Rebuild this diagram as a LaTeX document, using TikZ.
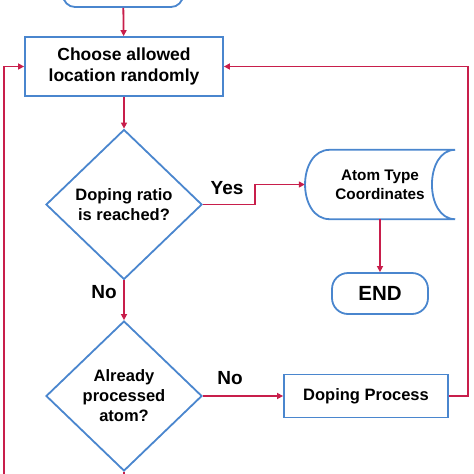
\documentclass[tikz,border=0pt]{standalone}
\usepackage{fontspec}
\setmainfont{Liberation Sans}
\usetikzlibrary{shapes.geometric, arrows.meta, positioning, calc}
\definecolor{flowblue}{RGB}{74, 134, 206}
\definecolor{linkred}{RGB}{200, 30, 75}
\tikzset{
  process/.style={draw=flowblue, line width=1.8pt, fill=white, align=center, inner sep=2pt, font=\bfseries\fontsize{17.5}{21}\selectfont},
  terminal/.style={draw=flowblue, line width=1.8pt, fill=white, rounded corners=16pt, align=center, inner sep=2pt},
  decision/.style={draw=flowblue, line width=1.8pt, fill=white, diamond, inner sep=0pt, minimum width=156pt, minimum height=150pt, align=center, font=\bfseries\fontsize{16.5}{20}\selectfont},
  datanode/.style={minimum width=150pt, minimum height=69pt, inner sep=0pt, align=center, font=\bfseries\fontsize{15.3}{19}\selectfont},
  link/.style={draw=linkred, line width=1.8pt, -{Triangle[length=6pt, width=6pt]}},
  plainlink/.style={draw=linkred, line width=1.8pt},
  lbl/.style={font=\bfseries\fontsize{19}{22}\selectfont}
}

\begin{document}
\begin{tikzpicture}[x=1pt, y=-1pt]
  \useasboundingbox (0,0) rectangle (474,474);

  % Boxes
  \node[terminal, minimum width=120pt, minimum height=54pt, rounded corners=12pt] (start) at (123,-20) {};
  \node[process, minimum width=198pt, minimum height=59pt] (choose) at (124,66.5) {Choose allowed\\location randomly};
  \node[decision] (ratio) at (124,204.5) {Doping ratio\\is reached?};
  \node[datanode] (data) at (380,184.5) {Atom Type\\Coordinates};
  \node[terminal, minimum width=96pt, minimum height=41pt, font=\bfseries\fontsize{20.5}{24}\selectfont] (end) at (380,293.5) {END};
  \node[decision] (processed) at (124,396) {Already\\processed\\atom?};
  \node[process, minimum width=164pt, minimum height=43pt, font=\bfseries\fontsize{16.5}{20}\selectfont] (doping) at (366,396) {Doping Process};

  % Stored data outline
  \draw[flowblue, line width=1.8pt]
    (data.north east) -- ($(data.north west)+(25,0)$)
    .. controls ($(data.north west)+(-8,0)$) and ($(data.south west)+(-8,0)$) .. ($(data.south west)+(25,0)$)
    -- (data.south east)
    .. controls ($(data.south east)+(-31,0)$) and ($(data.north east)+(-31,0)$) .. (data.north east);

  % Labels
  \node[lbl] (yes) at (227,188) {Yes};
  \node[lbl] (no1) at (104,292) {No};
  \node[lbl] (no2) at (230,378) {No};

  % Connectors
  \coordinate (loopbottom) at (4,480);
  \coordinate (belowproc) at (124,480);
  \draw[link] (start) -- (choose);
  \draw[link] (choose) -- (ratio);
  \draw[link] (ratio.east) -- ++(52,0) |- (data.west);
  \draw[link] (data.south) -- (end.north);
  \draw[link] (ratio.south) -- (processed.north);
  \draw[link] (processed.east) -- (doping.west);
  \draw[link] (doping.east) -- ++(19,0) |- (choose.east);
  \draw[link] (loopbottom) |- (choose.west);
  \draw[plainlink] (processed.south) -- (belowproc);
\end{tikzpicture}
\end{document}
